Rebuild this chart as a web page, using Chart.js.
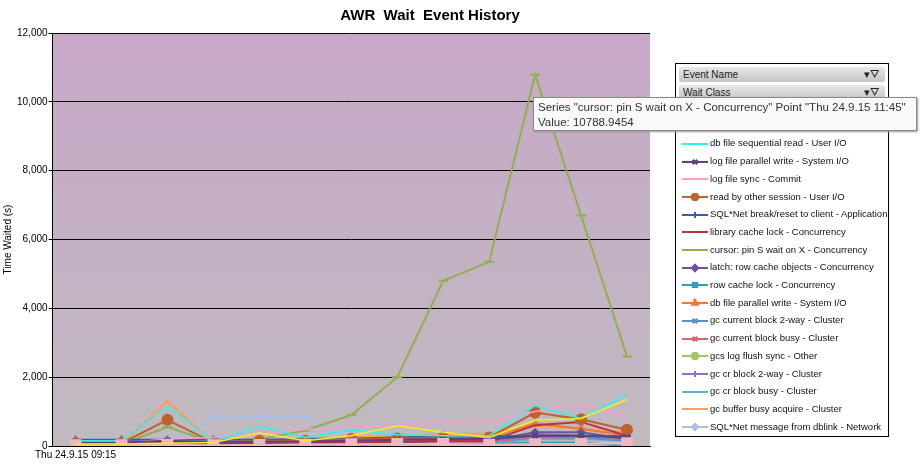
<!DOCTYPE html>
<html>
<head>
<meta charset="utf-8">
<script src="https://cdn.jsdelivr.net/npm/chart.js@4/dist/chart.umd.min.js"></script>
<style>
body { margin:0; background:#fff; font-family:"Liberation Sans", Arial, sans-serif; }
#wrap { position:absolute; left:0; top:0; width:665px; height:475px; }
#title { position:absolute; left:0; width:860px; top:6px; text-align:center; font-size:15px; font-weight:bold; color:#000; }
#legend { position:absolute; left:675px; top:63px; width:212px; height:372px; border:1px solid #000; background:#fff; }
.hdr { margin:3px 3px 0 3px; height:15px; font-size:10px; line-height:15px; padding-left:4px; color:#222;
       background:linear-gradient(#e8e8e8,#c4c4c4); border-radius:3px; position:relative; }
.hdr span { position:absolute; right:6px; top:0; font-size:11px; }
.item { position:absolute; left:6px; font-size:9.5px; color:#111; white-space:nowrap; height:14px; line-height:14px; }
.item canvas { vertical-align:middle; margin-right:2px; }
#tip { position:absolute; left:533px; top:97px; width:384px; height:34px; background:#f9f9f9; border:1px solid #888;
       box-shadow:1px 1px 2px #999; font-size:11.5px; color:#333; padding:2px 4px; box-sizing:border-box; line-height:15px; }
</style>
</head>
<body>
<div id="wrap"><canvas id="chart"></canvas></div>
<div id="title">AWR&nbsp; Wait&nbsp; Event History</div>
<div id="legend">
  <div class="hdr">Event Name<span>▾⛛</span></div>
  <div class="hdr">Wait Class<span>▾⛛</span></div>
</div>
<div id="tip">Series "cursor: pin S wait on X - Concurrency" Point "Thu 24.9.15 11:45"<br>Value: 10788.9454</div>
<script>
// categories
const labels = ['09:15','09:30','09:45','10:00','10:15','10:30','10:45','11:00','11:15','11:30','11:45','12:00','12:15'];
const yTicks = [0, 2000, 4000, 6000, 8000, 10000, 12000];

// series values (s)
const cpuTime          = [60, 60, 80, 100, 380, 150, 300, 590, 400, 250, 750, 800, 1350];
const directPathRead   = [20, 20, 30, 20, 30, 40, 50, 60, 60, 40, 50, 60, 80];
const dbFileSeqRead    = [150, 150, 1150, 120, 570, 250, 470, 330, 300, 300, 1170, 800, 1490];
const logFileParWrite  = [100, 100, 150, 100, 120, 130, 150, 180, 200, 200, 300, 300, 250];
const logFileSync      = [80, 80, 200, 250, 350, 480, 550, 600, 680, 700, 1000, 1200, 850];
const readByOther      = [80, 80, 760, 100, 150, 150, 200, 220, 250, 250, 970, 780, 470];
const sqlNetBreak      = [180, 180, 180, 180, 180, 200, 220, 250, 280, 280, 300, 300, 280];
const libCacheLock     = [50, 50, 100, 60, 80, 80, 100, 120, 150, 150, 600, 700, 300];
const cursorPinS       = [50, 50, 550, 100, 200, 450, 900, 2000, 4800, 5350, 10789, 6700, 2600];
const latchRowCache    = [30, 30, 80, 40, 60, 60, 80, 100, 150, 150, 400, 400, 200];
const rowCacheLock     = [20, 20, 60, 30, 40, 40, 50, 60, 60, 60, 100, 100, 0];
const dbFileParWrite   = [40, 40, 100, 50, 80, 100, 150, 200, 250, 250, 650, 500, 300];
const gcCur2way        = [30, 30, 80, 40, 60, 80, 100, 120, 150, 150, 300, 250, 150];
const gcCurBusy        = [20, 20, 60, 30, 40, 50, 80, 100, 120, 120, 250, 250, 200];
const gcsLogFlush      = [30, 30, 100, 30, 50, 60, 80, 100, 150, 150, 400, 350, 250];
const gcCr2way         = [40, 40, 80, 50, 60, 80, 100, 120, 150, 150, 350, 350, 250];
const gcCrBusy         = [10, 10, 40, 20, 30, 40, 50, 60, 80, 80, 200, 200, 150];
const gcBufBusyAcq     = [60, 60, 1300, 80, 150, 200, 250, 300, 350, 350, 600, 500, 400];
const sqlNetDblink     = [20, 20, 50, 850, 850, 850, 100, 80, 60, 60, 50, 40, 30];

function ser(name, data, color, style, r, width) {
  return { label: name, data: data, borderColor: color, backgroundColor: color,
           pointStyle: style || false, pointRadius: style ? (r || 4) : 0,
           borderWidth: width || 2, tension: 0 };
}

const datasets = [
  ser('CPU time - CPU', cpuTime, '#f0f020', false, 0, 1.5),
  ser('direct path read - User I/O', directPathRead, '#f0b8c0', 'rect', 7),
  ser('db file sequential read - User I/O', dbFileSeqRead, '#30f0f0', false, 0, 1.5),
  ser('log file parallel write - System I/O', logFileParWrite, '#604080', 'crossRot', 4),
  ser('log file sync - Commit', logFileSync, '#ff9ad0', false, 0, 1.5),
  ser('read by other session - User I/O', readByOther, '#c0622c', 'circle', 5),
  ser('SQL*Net break/reset to client - Application', sqlNetBreak, '#3060b0', 'cross', 4),
  ser('library cache lock - Concurrency', libCacheLock, '#c03040'),
  ser('cursor: pin S wait on X - Concurrency', cursorPinS, '#90b050', 'line', 5),
  ser('latch: row cache objects - Concurrency', latchRowCache, '#7050a0', 'rectRot', 3),
  ser('row cache lock - Concurrency', rowCacheLock, '#30a0b8', 'rect', 4),
  ser('db file parallel write - System I/O', dbFileParWrite, '#f07830', 'triangle', 4),
  ser('gc current block 2-way - Cluster', gcCur2way, '#6090c8', 'crossRot', 4),
  ser('gc current block busy - Cluster', gcCurBusy, '#d06878', 'crossRot', 4),
  ser('gcs log flush sync - Other', gcsLogFlush, '#a0c860', 'circle', 3),
  ser('gc cr block 2-way - Cluster', gcCr2way, '#9070c0', 'cross', 4),
  ser('gc cr block busy - Cluster', gcCrBusy, '#60b0d8'),
  ser('gc buffer busy acquire - Cluster', gcBufBusyAcq, '#f8a060', false, 0, 2.5),
  ser('SQL*Net message from dblink - Network', sqlNetDblink, '#a8c0e8', 'rectRot', 3)
];

// html legend
const legendBox = document.getElementById('legend');
datasets.forEach(function(ds, i) {
  const div = document.createElement('div');
  div.className = 'item';
  div.style.top = (37 + i * 17.7) + 'px';
  const c = document.createElement('canvas');
  c.width = 26; c.height = 10;
  const g = c.getContext('2d');
  g.strokeStyle = ds.borderColor; g.lineWidth = 2;
  g.beginPath(); g.moveTo(0, 5); g.lineTo(26, 5); g.stroke();
  if (ds.pointStyle && ds.pointStyle !== 'line') {
    Chart.helpers.drawPoint(g, { pointStyle: ds.pointStyle, radius: 3, borderWidth: 1 }, 13, 5);
    g.fillStyle = ds.borderColor; g.fill(); g.stroke();
  }
  div.appendChild(c);
  div.appendChild(document.createTextNode(ds.label));
  legendBox.appendChild(div);
});

const bgPlugin = {
  id: 'plotBg',
  beforeDraw(chart) {
    const a = chart.chartArea, ctx = chart.ctx;
    const grad = ctx.createLinearGradient(0, a.top, 0, a.bottom);
    grad.addColorStop(0, '#c8a8c8');
    grad.addColorStop(1, '#c0bac0');
    ctx.save(); ctx.fillStyle = grad;
    ctx.fillRect(a.left, a.top, a.right - a.left, a.bottom - a.top);
    ctx.restore();
  }
};

new Chart(document.getElementById('chart'), {
  type: 'line',
  data: { labels: labels, datasets: datasets },
  plugins: [bgPlugin],
  options: {
    responsive: true, maintainAspectRatio: false, animation: false,
    layout: { padding: { left: 0, right: 15, top: 33, bottom: 11 } },
    plugins: {
      legend: { display: false },
      tooltip: { enabled: false },
      title: { display: false }
    },
    scales: {
      x: {
        offset: true,
        grid: { display: false, drawTicks: false },
        border: { color: '#000' },
        ticks: { autoSkip: false, maxRotation: 0, color: '#000', font: { family: 'Liberation Sans', size: 10 },
                 callback: function(v, i) { return i === 0 ? 'Thu 24.9.15 09:15' : ''; } }
      },
      y: {
        min: 0, max: 12000,
        afterBuildTicks: function(axis) { axis.ticks = yTicks.map(function(v) { return { value: v }; }); },
        grid: { color: '#000', drawTicks: true, tickLength: 4 },
        border: { color: '#000' },
        ticks: { color: '#000', font: { family: 'Liberation Sans', size: 10 }, padding: 1,
                 callback: function(v) { return v.toLocaleString('en-US'); } },
        title: { display: true, text: 'Time Waited (s)', color: '#000', padding: 2, font: { family: 'Liberation Sans', size: 10 } }
      }
    }
  }
});
</script>
</body>
</html>
